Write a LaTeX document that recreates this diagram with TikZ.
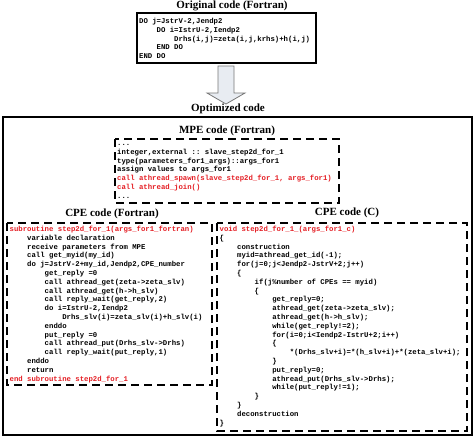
\documentclass[tikz,border=0pt]{standalone}
\usepackage{fontspec}
\setmainfont{Liberation Serif}
\setmonofont{Liberation Mono}
\definecolor{codered}{RGB}{228,30,36}
\definecolor{arrowfill}{RGB}{232,236,242}
\definecolor{arrowline}{RGB}{120,120,120}
\newcommand\codefont{\fontsize{7.3}{8.8}\selectfont\ttfamily\bfseries}
\newcommand\ci[1]{\hspace*{#1\dimexpr0.6em\relax}}
\newcommand\rd[1]{\textcolor{codered}{#1}}
\tikzset{
  codeblock/.style={anchor=base west, inner sep=0pt, font=\codefont},
  titletext/.style={inner sep=0pt, font=\fontsize{11}{13}\selectfont\bfseries},
  dashbox/.style={line width=1.6pt, dash pattern=on 8pt off 5pt},
}
\begin{document}
\begin{tikzpicture}[x=1pt,y=-1pt]
\useasboundingbox (0,0) rectangle (474,437);

% original code
\node[titletext] (ttlorig) at (232,6) {Original code (Fortran)};
\draw[line width=1.4pt] (137,13) rectangle (316,63);
\coordinate (origbot) at (226,63);
\node[codeblock] (origcode) at (139,23.5) {\begin{tabular}[t]{@{}l@{}}
DO j=JstrV-2,Jendp2\\
\ci{4}DO i=IstrU-2,Iendp2\\
\ci{8}Drhs(i,j)=zeta(i,j,krhs)+h(i,j)\\
\ci{4}END DO\\
END DO
\end{tabular}};

% block arrow
\draw[arrowline, fill=arrowfill, line width=0.8pt]
  (218,66) -- (234,66) -- (234,93) -- (245,93) -- (226,104) -- (207,93) -- (218,93) -- cycle;

\node[titletext] (ttlopt) at (228,109) {Optimized code};
\draw[line width=2pt] (3,116.5) rectangle (472,435);

% MPE
\node[titletext] (ttlmpe) at (227,131) {MPE code (Fortran)};
\draw[dashbox] (115,139) rectangle (339,203);
\node[codeblock] (mpecode) at (117,145.5) {\begin{tabular}[t]{@{}l@{}}
...\\
integer,external :: slave\_step2d\_for\_1\\
type(parameters\_for1\_args)::args\_for1\\
assign values to args\_for1\\
\rd{call athread\_spawn(slave\_step2d\_for\_1, args\_for1)}\\
\rd{call athread\_join()}\\
...
\end{tabular}};

% CPE Fortran
\node[titletext] (ttlcpef) at (112,214) {CPE code (Fortran)};
\draw[dashbox] (7,223) rectangle (212,385);
\node[codeblock] (cpefcode) at (9.5,231.5) {\begin{tabular}[t]{@{}l@{}}
\rd{subroutine step2d\_for\_1(args\_for1\_fortran)}\\
\ci{4}variable declaration\\
\ci{4}receive parameters from MPE\\
\ci{4}call get\_myid(my\_id)\\
\ci{4}do j=JstrV-2+my\_id,Jendp2,CPE\_number\\
\ci{8}get\_reply =0\\
\ci{8}call athread\_get(zeta->zeta\_slv)\\
\ci{8}call athread\_get(h->h\_slv)\\
\ci{8}call reply\_wait(get\_reply,2)\\
\ci{8}do i=IstrU-2,Iendp2\\
\ci{12}Drhs\_slv(i)=zeta\_slv(i)+h\_slv(i)\\
\ci{8}enddo\\
\ci{8}put\_reply =0\\
\ci{8}call athread\_put(Drhs\_slv->Drhs)\\
\ci{8}call reply\_wait(put\_reply,1)\\
\ci{4}enddo\\
\ci{4}return\\
\rd{end subroutine step2d\_for\_1}
\end{tabular}};

% CPE C
\node[titletext] (ttlcpec) at (347,213) {CPE code (C)};
\draw[dashbox] (217,223) rectangle (467,431);
\node[codeblock] (cpeccode) at (219.5,231.5) {\begin{tabular}[t]{@{}l@{}}
\rd{void step2d\_for\_1\_(args\_for1\_c)}\\
\{\\
\ci{4}construction\\
\ci{4}myid=athread\_get\_id(-1);\\
\ci{4}for(j=0;j<Jendp2-JstrV+2;j++)\\
\ci{4}\{\\
\ci{8}if(j\%number of CPEs == myid)\\
\ci{8}\{\\
\ci{12}get\_reply=0;\\
\ci{12}athread\_get(zeta->zeta\_slv);\\
\ci{12}athread\_get(h->h\_slv);\\
\ci{12}while(get\_reply!=2);\\
\ci{12}for(i=0;i<Iendp2-IstrU+2;i++)\\
\ci{12}\{\\
\ci{16}*(Drhs\_slv+i)=*(h\_slv+i)+*(zeta\_slv+i);\\
\ci{12}\}\\
\ci{12}put\_reply=0;\\
\ci{12}athread\_put(Drhs\_slv->Drhs);\\
\ci{12}while(put\_reply!=1);\\
\ci{8}\}\\
\ci{4}\}\\
\ci{4}deconstruction\\
\}
\end{tabular}};
\end{tikzpicture}
\end{document}
